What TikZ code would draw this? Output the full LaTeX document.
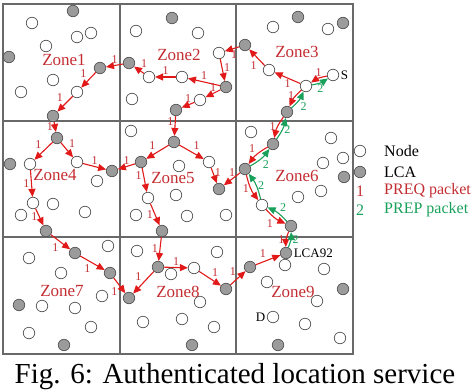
\documentclass[tikz,border=0pt]{standalone}
\usepackage{fontspec}
\setmainfont{Liberation Serif}
\usetikzlibrary{arrows.meta}

\definecolor{gridgray}{RGB}{105,105,105}
\definecolor{rimgray}{RGB}{85,85,85}
\definecolor{lcagray}{RGB}{155,155,155}
\definecolor{preqred}{RGB}{225,25,25}
\definecolor{labelred}{RGB}{195,45,50}
\definecolor{prepgreen}{RGB}{25,160,90}

\begin{document}
\begin{tikzpicture}[x=1pt,y=-1pt]
\useasboundingbox (0,0) rectangle (474,391);

% zones
\draw[gridgray,line width=1.1pt] (3,4) rectangle (353,354);
\draw[gridgray,line width=1.1pt] (120,4) -- (120,354) (236,4) -- (236,354)
    (3,121) -- (353,121) (3,237) -- (353,237);

\begin{scope}[every node/.style={circle,draw=rimgray,line width=0.7pt,inner sep=0pt,minimum size=11.5pt},
              host/.style={fill=white},
              lca/.style={fill=lcagray}]
    % zone 1
    \node[lca]  (z1a) at (73,11) {};
    \node[host] (z1b) at (32,23) {};
    \node[host] (z1c) at (77,37) {};
    \node[host] (z1d) at (91,33) {};
    \node[host] (z1e) at (46,46) {};
    \node[lca]  (z1f) at (9,57) {};
    \node[lca]  (z1g) at (100,68) {};
    \node[host] (z1h) at (53,80) {};
    \node[host] (z1i) at (21,92) {};
    \node[host] (z1j) at (77,92) {};
    \node[lca]  (z1k) at (53,116) {};
    % zone 2
    \node[lca]  (z2a) at (172,18) {};
    \node[host] (z2b) at (136,31) {};
    \node[host] (z2c) at (198,33) {};
    \node[host] (z2d) at (219,53) {};
    \node[lca]  (z2e) at (129,63) {};
    \node[host] (z2f) at (149,77) {};
    \node[host] (z2g) at (182,77) {};
    \node[lca]  (z2h) at (226,87) {};
    \node[host] (z2i) at (200,100) {};
    \node[host] (z2j) at (132,99) {};
    \node[lca]  (z2k) at (176,110) {};
    % zone 3
    \node[lca]  (z3a) at (298,17) {};
    \node[host] (z3b) at (273,27) {};
    \node[host] (z3c) at (328,29) {};
    \node[lca]  (z3d) at (343,23) {};
    \node[lca]  (z3e) at (245,45) {};
    \node[host] (z3f) at (269,70) {};
    \node[host] (z3g) at (306,86) {};
    \node[host] (s)   at (333,75) {};
    \node[lca]  (z3h) at (287,112) {};
    % zone 4
    \node[lca]  (z4a) at (57,138) {};
    \node[host] (z4b) at (30,164) {};
    \node[lca]  (z4c) at (10,164) {};
    \node[host] (z4d) at (77,162) {};
    \node[lca]  (z4e) at (112,171) {};
    \node[host] (z4f) at (97,181) {};
    \node[host] (z4g) at (33,203) {};
    \node[host] (z4h) at (53,204) {};
    \node[host] (z4i) at (21,215) {};
    \node[host] (z4j) at (85,212) {};
    \node[lca]  (z4k) at (46,231) {};
    % zone 5
    \node[host] (z5a) at (131,131) {};
    \node[lca]  (z5b) at (174,142) {};
    \node[lca]  (z5c) at (141,162) {};
    \node[host] (z5d) at (179,166) {};
    \node[host] (z5e) at (209,162) {};
    \node[lca]  (z5f) at (219,189) {};
    \node[host] (z5g) at (148,198) {};
    \node[host] (z5h) at (176,195) {};
    \node[host] (z5i) at (136,215) {};
    \node[host] (z5j) at (187,216) {};
    \node[host] (z5k) at (226,215) {};
    \node[lca]  (z5l) at (162,231) {};
    % zone 6
    \node[host] (z6a) at (251,132) {};
    \node[host] (z6b) at (331,138) {};
    \node[lca]  (z6c) at (273,144) {};
    \node[host] (z6d) at (323,163) {};
    \node[host] (z6e) at (343,158) {};
    \node[lca]  (z6f) at (344,177) {};
    \node[lca]  (z6g) at (245,169) {};
    \node[host] (z6h) at (321,191) {};
    \node[host] (z6i) at (298,197) {};
    \node[host] (z6j) at (262,205) {};
    \node[lca]  (z6k) at (291,226) {};
    % zone 7
    \node[lca]  (z7a) at (75,253) {};
    \node[lca]  (z7b) at (110,273) {};
    \node[host] (z7c) at (108,246) {};
    \node[host] (z7d) at (29,258) {};
    \node[host] (z7e) at (61,273) {};
    \node[host] (z7f) at (102,296) {};
    \node[lca]  (z7g) at (19,305) {};
    \node[host] (z7h) at (42,306) {};
    \node[host] (z7i) at (75,308) {};
    \node[host] (z7j) at (91,327) {};
    \node[host] (z7k) at (29,333) {};
    \node[lca]  (z7l) at (64,345) {};
    % zone 8
    \node[host] (z8a) at (137,251) {};
    \node[host] (z8b) at (217,252) {};
    \node[lca]  (z8c) at (158,267) {};
    \node[host] (z8d) at (171,274) {};
    \node[host] (z8e) at (194,268) {};
    \node[lca]  (z8f) at (226,289) {};
    \node[lca]  (z8g) at (129,298) {};
    \node[host] (z8h) at (200,302) {};
    \node[host] (z8i) at (143,322) {};
    \node[host] (z8j) at (182,319) {};
    \node[host] (z8k) at (214,327) {};
    \node[lca]  (z8l) at (192,345) {};
    % zone 9
    \node[lca]  (lca92) at (286,253) {};
    \node[host] (z9a) at (285,265) {};
    \node[lca]  (z9b) at (250,267) {};
    \node[host] (z9c) at (324,269) {};
    \node[host] (z9d) at (267,282) {};
    \node[lca]  (z9e) at (343,289) {};
    \node[host] (z9f) at (317,301) {};
    \node[host] (d)   at (273,317) {};
    \node[host] (z9g) at (305,324) {};
    \node[host] (z9h) at (340,338) {};
    \node[lca]  (z9i) at (278,345) {};
    % legend
    \node[host] (keyhost) at (360,151) {};
    \node[lca]  (keylca)  at (360,172) {};
\end{scope}

\begin{scope}[every node/.style={text=labelred,font=\fontsize{17}{17}\selectfont}]
    \node (zone1) at (64,60) {Zone1};
    \node (zone2) at (179,55) {Zone2};
    \node (zone3) at (297,52) {Zone3};
    \node (zone4) at (55,175) {Zone4};
    \node (zone5) at (173,178) {Zone5};
    \node (zone6) at (297,176) {Zone6};
    \node (zone7) at (62,291) {Zone7};
    \node (zone8) at (178,292) {Zone8};
    \node (zone9) at (293,292) {Zone9};
\end{scope}

\begin{scope}[every node/.style={font=\fontsize{13}{13}\selectfont,inner sep=1.5pt}]
    \node[anchor=west] (slabel) at (s.east) {S};
    \node[anchor=east] (dlabel) at (d.west) {D};
    \node[anchor=west] (lcalabel) at (lca92.east) {LCA92};
\end{scope}

% PREQ
\begin{scope}[>={Triangle[length=8pt,width=7pt]},
              every node/.style={text=labelred,font=\fontsize{12}{12}\selectfont,inner sep=1.5pt},
              every edge/.style={draw=preqred,line width=1.1pt},
              twin/.style={bend right=12}]
    \path [->] (s) edge[twin] node[above] {1} (z3g);
    \path [->] (z3g) edge node[below] {1} (z3f);
    \path [->] (z3g) edge[twin] node[pos=.35,left] {1} (z3h);
    \path [->] (z3f) edge node[pos=.4,below left] {1} (z3e);
    \path [->] (z3e) edge node[pos=.35,below] {1} (z2d);
    \path [->] (z2d) edge node[pos=.4,right] {1} (z2h);
    \path [->] (z2h) edge node[above] {1} (z2g);
    \path [->] (z2h) edge node[above] {1} (z2i);
    \path [->] (z2g) edge node[above] {1} (z2f);
    \path [->] (z2f) edge node[above right] {1} (z2e);
    \path [->] (z2e) edge node[above] {1} (z1g);
    \path [->] (z1g) edge node[above left] {1} (z1j);
    \path [->] (z1j) edge node[above left] {1} (z1k);
    \path [->] (z2i) edge node[above] {1} (z2k);
    \path [->] (z2k) edge node[pos=.25,left] {1} (z5b);
    \path [->] (z1k) edge node[left] {1} (z4a);
    \path [->] (z4a) edge node[above left] {1} (z4b);
    \path [->] (z4a) edge node[above right] {1} (z4d);
    \path [->] (z4d) edge node[above] {1} (z4e);
    \path [->] (z4b) edge node[left] {1} (z4g);
    \path [->] (z4g) edge node[left] {1} (z4k);
    \path [->] (z5b) edge node[above left] {1} (z5c);
    \path [->] (z5b) edge node[above right] {1} (z5e);
    \path [->] (z5c) edge node[above] {1} (z4e);
    \path [->] (z5c) edge node[pos=.3,left] {1} (z5g);
    \path [->] (z5e) edge node[pos=.3,right] {1} (z5f);
    \path [->] (z5g) edge node[left] {1} (z5l);
    \path [->] (z6g) edge node[above] {1} (z5f);
    \path [->] (z3h) edge[twin] node[left] {1} (z6c);
    \path [->] (z6c) edge[twin] node[above left] {1} (z6g);
    \path [->] (z6g) edge[twin] node[left] {1} (z6j);
    \path [->] (z6j) edge[twin] node[below left] {1} (z6k);
    \path [->] (z6k) edge[twin] node[left] {1} (lca92);
    \path [->] (z4k) edge node[below left] {1} (z7a);
    \path [->] (z7a) edge node[below left] {1} (z7b);
    \path [->] (z7b) edge node[below left] {1} (z8g);
    \path [->] (z5l) edge node[left] {1} (z8c);
    \path [->] (z8c) edge node[above left] {1} (z8g);
    \path [->] (z8c) edge node[above] {1} (z8e);
    \path [->] (z8e) edge node[above right] {1} (z8f);
    \path [->] (z8f) edge node[above left] {1} (z9b);
    \path [->] (z9b) edge node[above left] {1} (lca92);
\end{scope}

% PREP
\begin{scope}[>={Triangle[length=8pt,width=7pt]},
              every node/.style={text=prepgreen,font=\fontsize{12}{12}\selectfont,inner sep=1.5pt},
              every edge/.style={draw=prepgreen,line width=1.1pt},
              twin/.style={bend right=12}]
    \path [->] (lca92) edge[twin] node[right] {2} (z6k);
    \path [->] (z6k) edge[twin] node[above right] {2} (z6j);
    \path [->] (z6j) edge[twin] node[right] {2} (z6g);
    \path [->] (z6g) edge[twin] node[below right] {2} (z6c);
    \path [->] (z6c) edge[twin] node[right] {2} (z3h);
    \path [->] (z3h) edge[twin] node[below right] {2} (z3g);
    \path [->] (z3g) edge[twin] node[below] {2} (s);
\end{scope}

% legend
\begin{scope}[every node/.style={font=\fontsize{16}{16}\selectfont,anchor=west,inner sep=0pt}]
    \node (keyhosttext) at (384,151) {Node};
    \node (keylcatext)  at (384,172) {LCA};
    \node[anchor=center,text=labelred] (keypreq) at (360,191) {1};
    \node[text=labelred] (keypreqtext) at (384,191) {PREQ packet};
    \node[anchor=center,text=prepgreen] (keyprep) at (360,210) {2};
    \node[text=prepgreen] (keypreptext) at (384,210) {PREP packet};
\end{scope}

\node[font=\fontsize{29}{29}\selectfont,anchor=base] (caption) at (235,383) {Fig. 6: Authenticated location service};
\end{tikzpicture}
\end{document}
